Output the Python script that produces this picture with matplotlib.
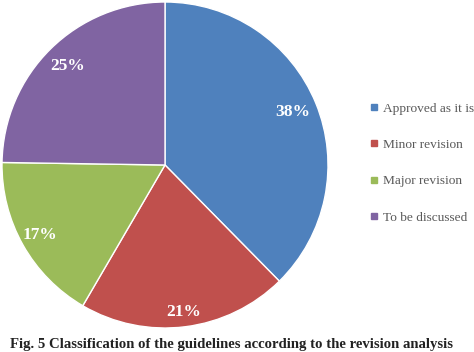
import numpy as np
import matplotlib.pyplot as plt
from matplotlib.lines import Line2D

categories = ["Approved as it is", "Minor revision", "Major revision", "To be discussed"]
shares = [38, 21, 17, 25]
pct_labels = ["38%", "21%", "17%", "25%"]
colors = ["#4F81BD", "#C0504D", "#9BBB59", "#8064A2"]
label_dist = [0.85, 0.91, 0.88, 0.85]

W, H = 474, 352
fig = plt.figure(figsize=(W / 100, H / 100), dpi=100)
fig.patch.set_facecolor("white")

# pie axes: centre (165,165) px, radius ~163 px
ax = fig.add_axes([2 / W, (H - 328) / H, 326 / W, 326 / H])
lbl_iter = iter(pct_labels)
wedges, texts, autotexts = ax.pie(
    shares,
    colors=colors,
    startangle=90,
    counterclock=False,
    autopct=lambda p: next(lbl_iter),
    pctdistance=0.87,
    wedgeprops=dict(edgecolor="white", linewidth=1.0),
    textprops=dict(color="white", fontsize=12.5, fontweight="bold",
                   family="Liberation Serif"),
)
# nudge labels along their wedge's mid-angle
for w, t, d in zip(wedges, autotexts, label_dist):
    mid = np.deg2rad((w.theta1 + w.theta2) / 2)
    t.set_position((d * np.cos(mid), d * np.sin(mid)))

ax.set_xlim(-1, 1)
ax.set_ylim(-1, 1)
ax.set_aspect("equal")

handles = [Line2D([], [], marker="s", linestyle="none", markersize=5,
                  markerfacecolor=c, markeredgecolor=c) for c in colors]
fig.legend(handles, categories, loc="upper left",
           bbox_to_anchor=(364 / W, 1 - 97 / H), frameon=False,
           prop=dict(family="Liberation Serif", size=9.6),
           labelcolor="#595959", handlelength=0.7, handletextpad=0.35,
           labelspacing=1.8, borderaxespad=0)

fig.text(10 / W, 1 - 351 / H,
         "Fig. 5 Classification of the guidelines according to the revision analysis",
         ha="left", va="bottom", fontsize=10.6, fontweight="bold",
         family="Liberation Serif", color="#222222")

fig.savefig("out.png", dpi=100)
